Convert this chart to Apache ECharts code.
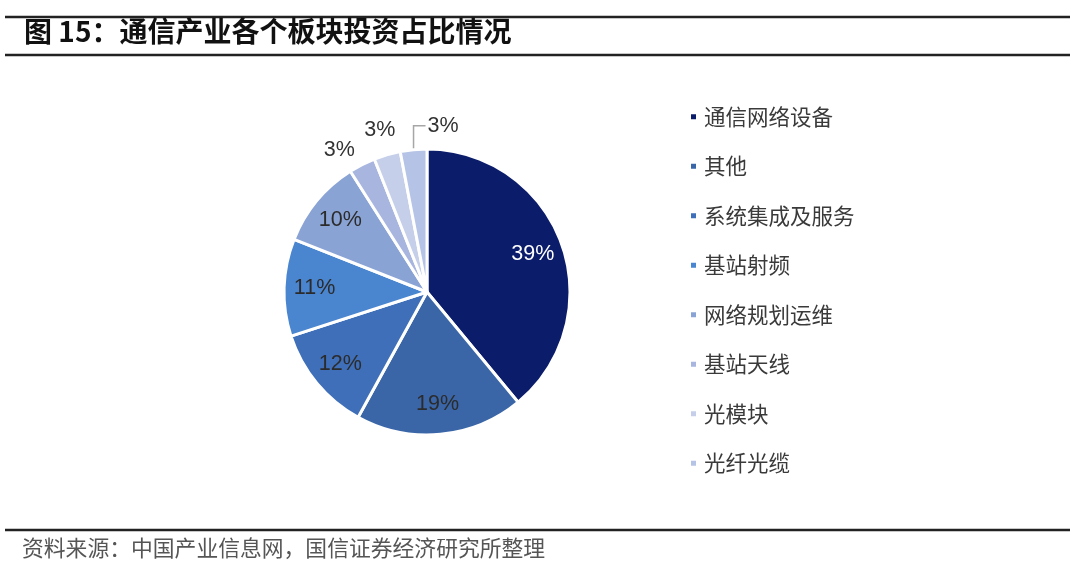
<!DOCTYPE html>
<html>
<head>
<meta charset="utf-8">
<script src="https://cdn.jsdelivr.net/npm/echarts@6/dist/echarts.min.js"></script>
<style>
html,body{margin:0;padding:0;background:#fff;}
#chart{width:1080px;height:567px;}
</style>
</head>
<body>
<div id="chart"></div>
<script>
const titleText = '图 15：通信产业各个板块投资占比情况';
const sourceText = '资料来源：中国产业信息网，国信证券经济研究所整理';
const categories = ['通信网络设备', '其他', '系统集成及服务', '基站射频', '网络规划运维', '基站天线', '光模块', '光纤光缆'];
const values = [39, 19, 12, 11, 10, 3, 3, 3];
const colors = ['#0b1c6b', '#3a66a8', '#3e6fb8', '#4a85cf', '#8aa3d5', '#a7b5df', '#c5cfea', '#b4c3e6'];

const chart = echarts.init(document.getElementById('chart'));
const font = '"Liberation Sans", Arial, "Noto Sans CJK SC", sans-serif';
const cjk = '"Noto Sans CJK SC", sans-serif';
const center = [427, 292];
const R = 143;
const total = values.reduce((a, b) => a + b, 0);

function midAngle(i) {
  let before = 0;
  for (let k = 0; k < i; k++) before += values[k];
  return (before + values[i] / 2) / total * Math.PI * 2;
}
function polar(i, r) {
  const a = midAngle(i);
  return [center[0] + r * Math.sin(a), center[1] - r * Math.cos(a)];
}

const shapeData = categories.map((c, i) => ({ name: c, value: values[i], itemStyle: { color: colors[i] } }));
const labelData = categories.map((c, i) => {
  const small = values[i] < 5;
  return {
    name: c,
    value: values[i],
    itemStyle: { color: 'rgba(0,0,0,0)' },
    label: small
      ? { show: true, position: 'outside', color: '#333' }
      : { show: true, position: 'inside', color: i === 0 ? '#ffffff' : '#2b2b2b' },
    labelLine: { show: i === 7 }
  };
});

chart.setOption({
  animation: false,
  backgroundColor: '#fff',
  color: colors,
  legend: {
    orient: 'vertical',
    left: 684,
    top: 101,
    icon: 'rect',
    itemWidth: 7,
    itemHeight: 7,
    itemGap: 28,
    data: categories,
    textStyle: { fontSize: 21.5, color: '#3a3a3a', fontFamily: cjk, padding: [0, 0, 0, 2] }
  },
  graphic: [
    { type: 'line', shape: { x1: 5, y1: 17, x2: 1070, y2: 17 }, style: { stroke: '#222', lineWidth: 2.5 } },
    { type: 'line', shape: { x1: 5, y1: 55, x2: 1070, y2: 55 }, style: { stroke: '#222', lineWidth: 2.5 } },
    { type: 'line', shape: { x1: 5, y1: 530, x2: 1070, y2: 530 }, style: { stroke: '#222', lineWidth: 2.5 } },
    { type: 'text', left: 24, top: 17, style: { text: titleText, fontSize: 28, fontWeight: 'bold', fill: '#111', fontFamily: cjk } },
    { type: 'text', left: 22, top: 537, style: { text: sourceText, fontSize: 21.8, fill: '#555', fontFamily: cjk } }
  ],
  series: [
    {
      type: 'pie',
      center: center,
      radius: [0, R],
      startAngle: 90,
      clockwise: true,
      silent: true,
      label: { show: false },
      labelLine: { show: false },
      itemStyle: { borderColor: '#fff', borderWidth: 3 },
      data: shapeData
    },
    {
      type: 'pie',
      center: center,
      radius: [76, R],
      startAngle: 90,
      clockwise: true,
      silent: true,
      itemStyle: { borderWidth: 0 },
      label: { fontSize: 21.5, fontFamily: font, formatter: '{c}%', distanceToLabelLine: 3 },
      labelLine: { length: 14, length2: 2, lineStyle: { color: '#a6a6a6', width: 1.5 } },
      labelLayout: function (p) {
        const i = p.dataIndex;
        if (i === 5) {
          const q = polar(i, R + 16);
          return { x: q[0], y: q[1], align: 'right', verticalAlign: 'middle' };
        }
        if (i === 6) {
          const q = polar(i, R + 26);
          return { x: q[0], y: q[1], align: 'center', verticalAlign: 'middle' };
        }
        if (i === 7) {
          const s = polar(i, R);
          const up = [s[0], s[1] - 24];
          const end = [s[0] + 12, s[1] - 24];
          return { x: end[0] + 2, y: end[1], align: 'left', verticalAlign: 'middle', labelLinePoints: [s, up, end] };
        }
      },
      data: labelData
    }
  ]
});
</script>
</body>
</html>
